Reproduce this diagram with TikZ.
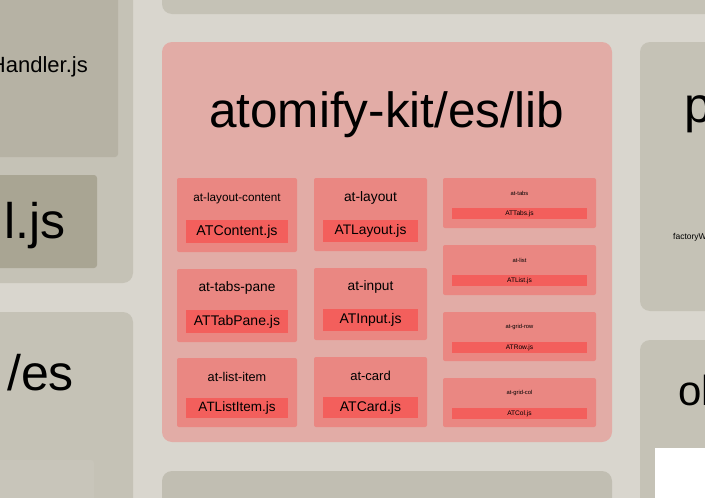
\documentclass[tikz,border=0pt]{standalone}
\usepackage{fontspec}
\setmainfont{Liberation Sans}
\definecolor{bgc}{HTML}{D9D6CE}
\definecolor{greyc}{HTML}{C5C2B6}
\definecolor{greyb}{HTML}{C1BEB2}
\definecolor{greyl}{HTML}{C8C5BA}
\definecolor{darka}{HTML}{B6B2A4}
\definecolor{darkb}{HTML}{A9A593}
\definecolor{pinkbg}{HTML}{E2ACA6}
\definecolor{compc}{HTML}{EA8782}
\definecolor{filec}{HTML}{F35F5C}
\tikzset{
  cont/.style={rounded corners=10pt},
  compbox/.style={fill=compc, rounded corners=2pt},
  filebox/.style={fill=filec},
  lbl/.style={inner sep=0pt, text=black},
  fs/.style={font=\fontsize{#1}{#1}\selectfont}
}
\begin{document}
\begin{tikzpicture}[x=1pt,y=-1pt]
\useasboundingbox (0,0) rectangle (705,498);
\clip (0,0) rectangle (705,498);
\fill[bgc] (0,0) rectangle (705,498);
% left containers
\fill[greyc, cont] (-40,-40) rectangle (133,283);
\fill[darka, rounded corners=3pt] (-40,-40) rectangle (118,157);
\fill[darkb, rounded corners=3pt] (-40,175) rectangle (97,268);
\node[lbl, fs=22, anchor=base east] (handler) at (88,72) {Handler.js};
\node[lbl, fs=50, anchor=base east] (ljs) at (66,238) {l.js};
\fill[greyc, cont] (-40,312) rectangle (133,540);
\fill[greyl, rounded corners=3pt] (-40,460) rectangle (94,540);
\node[lbl, fs=50, anchor=base east] (es) at (74,390) {/es};
% top and bottom containers
\fill[greyc, cont] (162,-40) rectangle (745,14);
\fill[greyb, cont] (162,471) rectangle (612,540);
% right containers
\fill[greyc, cont] (640,42) rectangle (745,311);
\node[lbl, fs=50, anchor=base west] (pnode) at (684,122) {p};
\node[lbl, fs=8.5, anchor=base west] (factory) at (673,239) {factoryW};
\fill[greyc, cont] (640,340) rectangle (745,540);
\node[lbl, fs=42, anchor=base west] (olnode) at (678,405) {ol};
\fill[white] (655,448) rectangle (745,540);
% main container
\fill[pinkbg, cont] (162,42) rectangle (612,442);
\node[lbl, fs=49.5, anchor=base] (title) at (386.5,127) {atomify-kit/es/lib};
% column 1
\fill[compbox] (177,178) rectangle (297,252);
\fill[filebox] (186,220) rectangle (288,243);
\node[lbl, fs=11.7] (n1) at (237,198) {at-layout-content};
\node[lbl, fs=14.2] (f1) at (237,231.5) {ATContent.js};
\fill[compbox] (177,269) rectangle (297,342);
\fill[filebox] (186,310) rectangle (288,333);
\node[lbl, fs=13.7] (n2) at (237,288) {at-tabs-pane};
\node[lbl, fs=14] (f2) at (237,321.5) {ATTabPane.js};
\fill[compbox] (177,358) rectangle (297,427);
\fill[filebox] (186,398) rectangle (288,418);
\node[lbl, fs=12.7] (n3) at (237,377) {at-list-item};
\node[lbl, fs=13.5] (f3) at (237,408) {ATListItem.js};
% column 2
\fill[compbox] (314,178) rectangle (427,251);
\fill[filebox] (323,220) rectangle (418,242);
\node[lbl, fs=13.8] (n4) at (370.5,198) {at-layout};
\node[lbl, fs=13.8] (f4) at (370.5,231) {ATLayout.js};
\fill[compbox] (314,268) rectangle (427,340);
\fill[filebox] (323,309) rectangle (418,331);
\node[lbl, fs=13.7] (n5) at (370.5,287) {at-input};
\node[lbl, fs=14] (f5) at (370.5,320) {ATInput.js};
\fill[compbox] (314,357) rectangle (427,427);
\fill[filebox] (323,397) rectangle (418,418);
\node[lbl, fs=13] (n6) at (370.5,376) {at-card};
\node[lbl, fs=14] (f6) at (370.5,407.5) {ATCard.js};
% column 3
\fill[compbox] (443,178) rectangle (596,228);
\fill[filebox] (452,208) rectangle (587,219);
\node[lbl, fs=5.8] (n7) at (519.5,193) {at-tabs};
\node[lbl, fs=6.6] (f7) at (519.5,213.5) {ATTabs.js};
\fill[compbox] (443,245) rectangle (596,295);
\fill[filebox] (452,275) rectangle (587,286);
\node[lbl, fs=5.8] (n8) at (519.5,260) {at-list};
\node[lbl, fs=6.6] (f8) at (519.5,280.5) {ATList.js};
\fill[compbox] (443,312) rectangle (596,361);
\fill[filebox] (452,342) rectangle (587,353);
\node[lbl, fs=5.8] (n9) at (519.5,327) {at-grid-row};
\node[lbl, fs=6.6] (f9) at (519.5,347.5) {ATRow.js};
\fill[compbox] (443,378) rectangle (596,427);
\fill[filebox] (452,408) rectangle (587,419);
\node[lbl, fs=5.8] (n10) at (519.5,393) {at-grid-col};
\node[lbl, fs=6.6] (f10) at (519.5,413.5) {ATCol.js};
\end{tikzpicture}
\end{document}
